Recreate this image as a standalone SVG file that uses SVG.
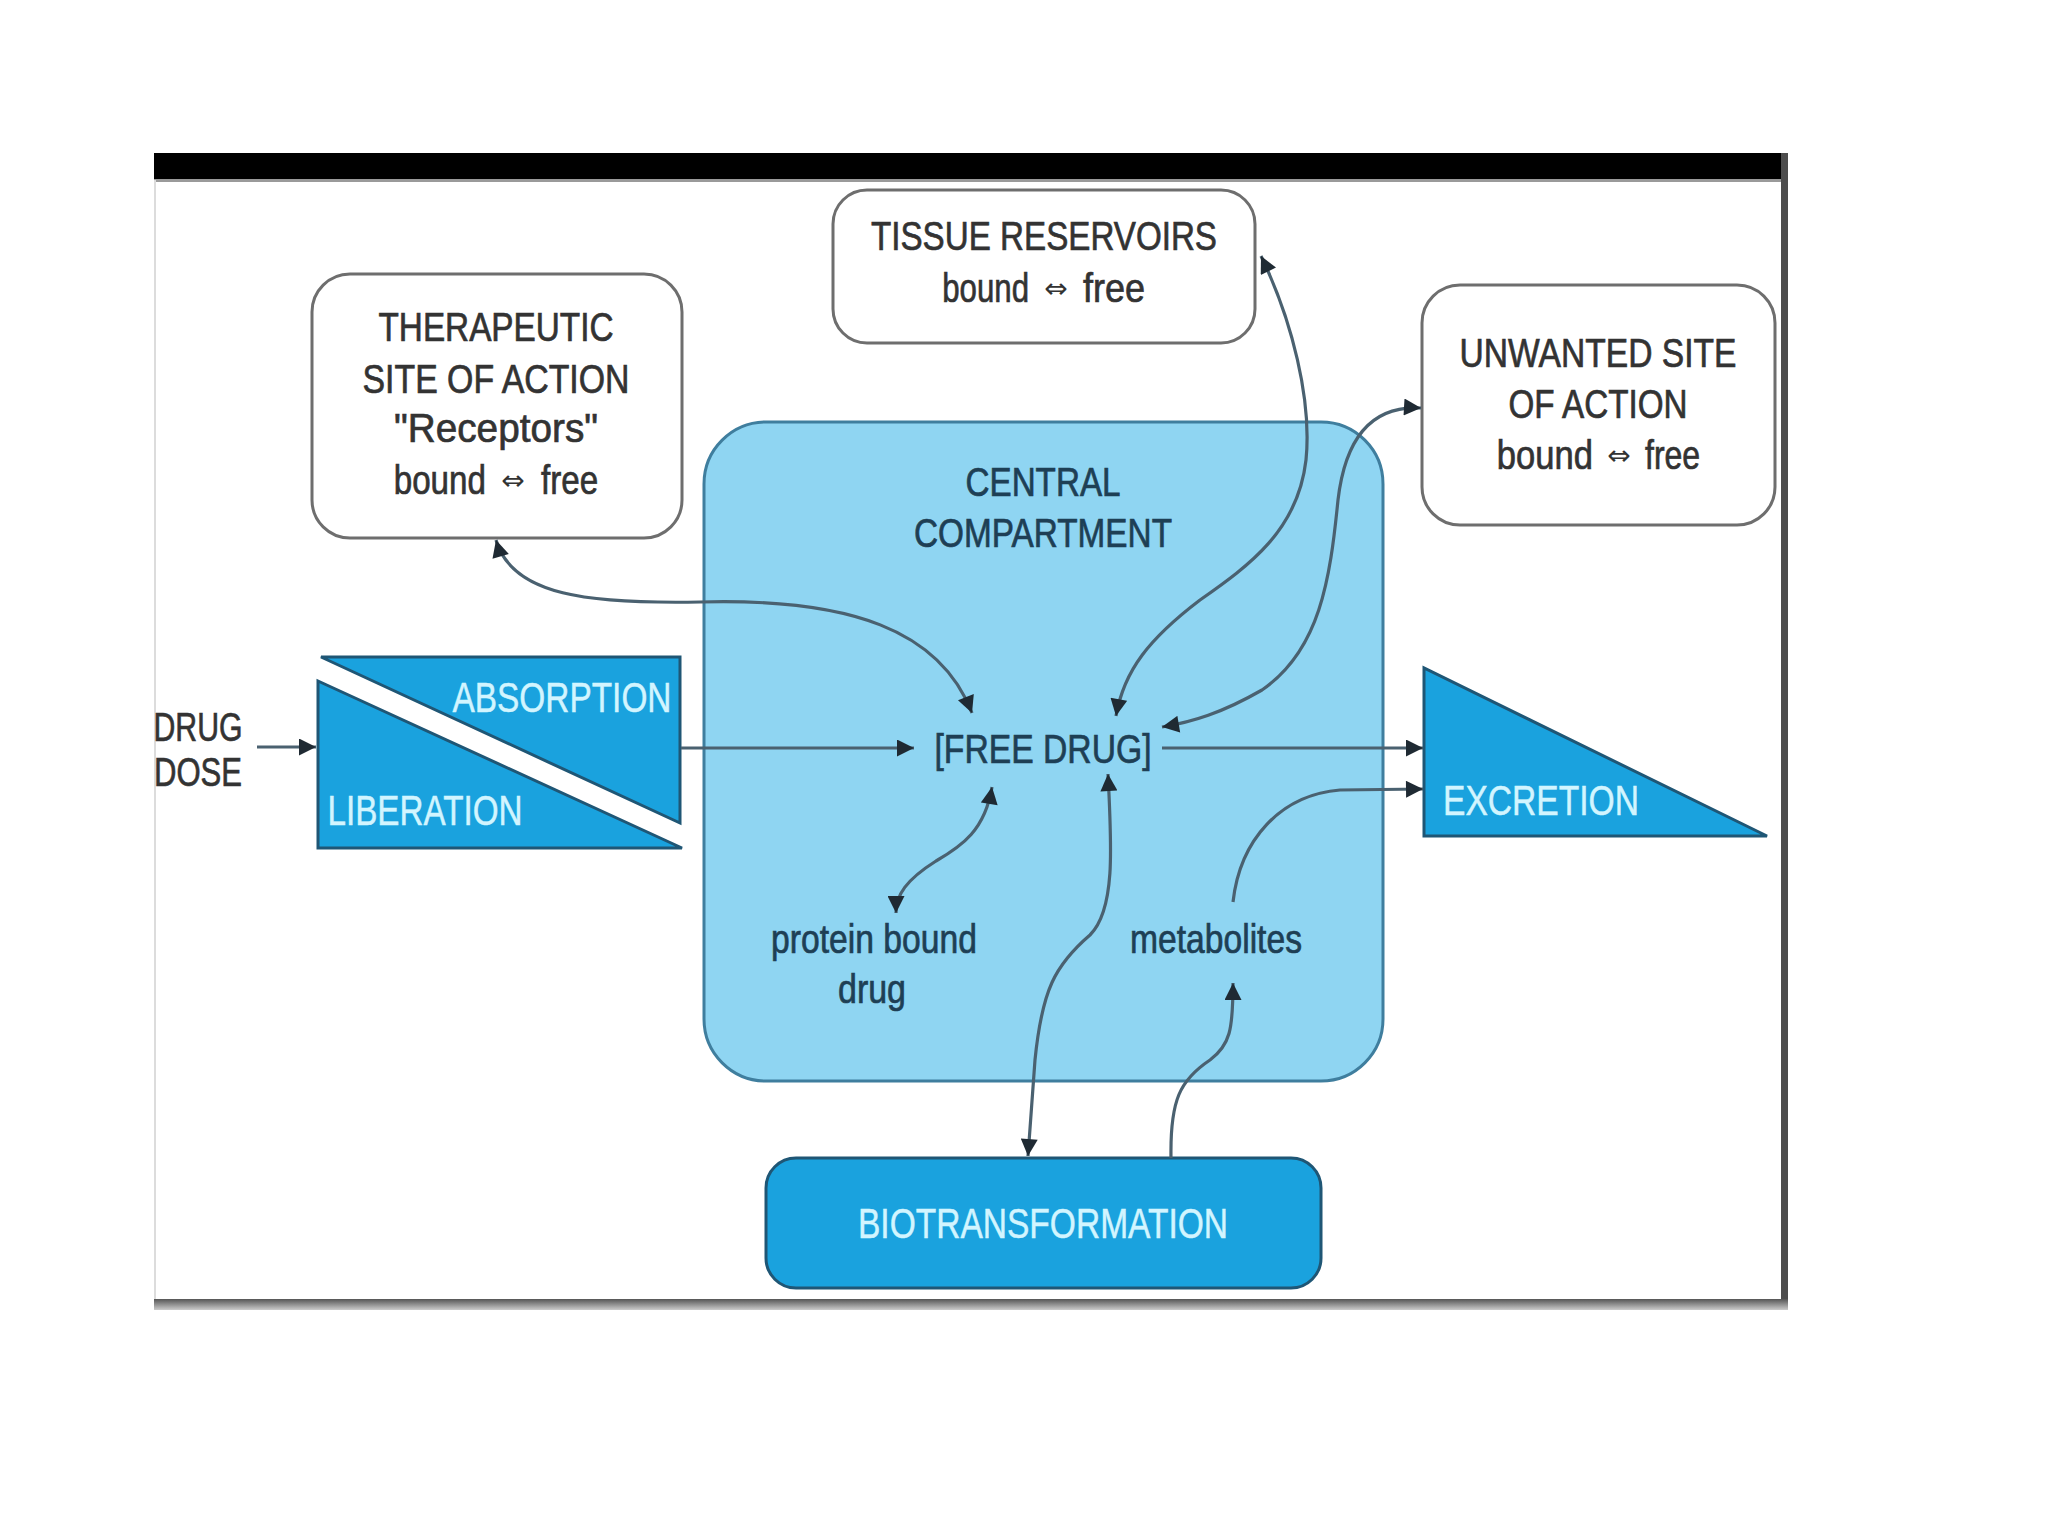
<svg xmlns="http://www.w3.org/2000/svg" width="2048" height="1536" viewBox="0 0 2048 1536">
<defs>
<marker id="ah" viewBox="0 0 10 10" refX="10" refY="5" markerWidth="20" markerHeight="17" markerUnits="userSpaceOnUse" orient="auto-start-reverse">
<path d="M0,0 L10,5 L0,10 z" fill="#1f2a33"/>
</marker>
<linearGradient id="bottomShade" x1="0" y1="0" x2="0" y2="1">
<stop offset="0" stop-color="#555"/>
<stop offset="1" stop-color="#ccc"/>
</linearGradient>
</defs>
<style>
.t{font-family:"Liberation Sans",Arial,sans-serif;text-anchor:middle}
.s{text-anchor:start}
.e{text-anchor:end}
.box{fill:#fff;stroke:#6e6e6e;stroke-width:3}
.dark{fill:#333;stroke:#333;stroke-width:0.7;font-size:40px}
.inner{fill:#1e3f55;stroke:#1e3f55;stroke-width:0.7;font-size:40px}
.light{fill:#d2f5ff;stroke:#d2f5ff;stroke-width:0.5;font-size:42px}
.sym{font-family:"DejaVu Sans",sans-serif;font-size:28px;text-anchor:middle;fill:#333}
.blue{fill:#1aa2de;stroke:#1f5675;stroke-width:3}
.con{fill:none;stroke:#4a6170;stroke-width:3.2}
</style>
<rect width="2048" height="1536" fill="#fff"/>
<g id="frame">
<rect x="154" y="153" width="1630" height="26" fill="#000"/>
<rect x="154" y="179" width="1630" height="3" fill="#9a9a9a"/>
<line x1="155" y1="180" x2="155" y2="1302" stroke="#dcdcdc" stroke-width="2"/>
<rect x="1781" y="153" width="7" height="1156" fill="#4d4d4d"/>
<rect x="154" y="1299" width="1634" height="11" fill="url(#bottomShade)"/>
</g>
<g id="central-compartment">
<rect x="704" y="422" width="679" height="659" rx="62" fill="#8fd5f2" stroke="#3f7e9e" stroke-width="3"/>
<text class="t inner" x="1043" y="496" textLength="155" lengthAdjust="spacingAndGlyphs">CENTRAL</text>
<text class="t inner" x="1043" y="547" textLength="258" lengthAdjust="spacingAndGlyphs">COMPARTMENT</text>
</g>
<g id="therapeutic-site">
<rect class="box" x="312" y="274" width="370" height="264" rx="38"/>
<text class="t dark" x="496" y="341" font-size="42" textLength="235" lengthAdjust="spacingAndGlyphs">THERAPEUTIC</text>
<text class="t dark" x="496" y="393" font-size="42" textLength="267" lengthAdjust="spacingAndGlyphs">SITE OF ACTION</text>
<text class="t dark" x="496" y="442" textLength="204" lengthAdjust="spacingAndGlyphs">"Receptors"</text>
<text class="t e dark" transform="translate(486,494) scale(0.83,1)">bound</text>
<text class="sym" x="513" y="490">⇔</text>
<text class="t s dark" transform="translate(541,494) scale(0.83,1)">free</text>
</g>
<g id="tissue-reservoirs">
<rect class="box" x="833" y="190" width="422" height="153" rx="34"/>
<text class="t dark" x="1044" y="250" font-size="42" textLength="346" lengthAdjust="spacingAndGlyphs">TISSUE RESERVOIRS</text>
<text class="t e dark" transform="translate(1029,302) scale(0.78,1)">bound</text>
<text class="sym" x="1056" y="298" font-size="25">⇔</text>
<text class="t s dark" transform="translate(1083,302) scale(0.9,1)">free</text>
</g>
<g id="unwanted-site">
<rect class="box" x="1422" y="285" width="353" height="240" rx="38"/>
<text class="t dark" x="1598" y="367" font-size="42" textLength="277" lengthAdjust="spacingAndGlyphs">UNWANTED SITE</text>
<text class="t dark" x="1598" y="418" font-size="42" textLength="179" lengthAdjust="spacingAndGlyphs">OF ACTION</text>
<text class="t e dark" transform="translate(1593,469) scale(0.865,1)">bound</text>
<text class="sym" x="1619" y="465">⇔</text>
<text class="t s dark" transform="translate(1645,469) scale(0.8,1)">free</text>
</g>
<g id="drug-dose">
<text class="t dark" x="198" y="741" textLength="89" lengthAdjust="spacingAndGlyphs">DRUG</text>
<text class="t dark" x="198" y="786" textLength="88" lengthAdjust="spacingAndGlyphs">DOSE</text>
</g>
<g id="absorption-liberation">
<polygon class="blue" points="321,657 680,657 680,823"/>
<polygon class="blue" points="318,681 682,848 318,848"/>
<text class="t light" x="562" y="712" textLength="219" lengthAdjust="spacingAndGlyphs">ABSORPTION</text>
<text class="t light" x="425" y="825" textLength="195" lengthAdjust="spacingAndGlyphs">LIBERATION</text>
</g>
<g id="free-drug">
<text class="t inner" x="1043" y="763" textLength="217" lengthAdjust="spacingAndGlyphs">[FREE DRUG]</text>
</g>
<g id="protein-bound">
<text class="t inner" x="874" y="953" textLength="206" lengthAdjust="spacingAndGlyphs">protein bound</text>
<text class="t inner" x="872" y="1003" textLength="68" lengthAdjust="spacingAndGlyphs">drug</text>
</g>
<g id="metabolites">
<text class="t inner" x="1216" y="953" textLength="172" lengthAdjust="spacingAndGlyphs">metabolites</text>
</g>
<g id="excretion">
<polygon class="blue" points="1424,668 1424,836 1767,836"/>
<text class="t light" x="1541" y="815" textLength="196" lengthAdjust="spacingAndGlyphs">EXCRETION</text>
</g>
<g id="biotransformation">
<rect x="766" y="1158" width="555" height="130" rx="30" fill="#1aa2de" stroke="#1f5675" stroke-width="3"/>
<text class="t light" x="1043" y="1238" textLength="370" lengthAdjust="spacingAndGlyphs">BIOTRANSFORMATION</text>
</g>
<g id="connectors">
<line class="con" x1="257" y1="747" x2="316" y2="747" marker-end="url(#ah)"/>
<line class="con" x1="681" y1="748" x2="914" y2="748" marker-end="url(#ah)"/>
<line class="con" x1="1162" y1="748" x2="1423" y2="748" marker-end="url(#ah)"/>
<path class="con" d="M496,540 C512,596 590,604 700,602 C850,598 940,630 972,713" marker-start="url(#ah)" marker-end="url(#ah)"/>
<path class="con" d="M1261,256 C1292,320 1312,400 1306,460 C1298,530 1250,565 1200,600 C1150,638 1124,670 1116,716" marker-start="url(#ah)" marker-end="url(#ah)"/>
<path class="con" d="M1421,408 C1370,405 1345,440 1338,500 C1330,580 1320,650 1262,690 C1222,713 1192,722 1162,727" marker-start="url(#ah)" marker-end="url(#ah)"/>
<path class="con" d="M992,787 C985,830 962,846 936,861 C906,880 896,895 896,913" marker-start="url(#ah)" marker-end="url(#ah)"/>
<path class="con" d="M1108,774 C1112,850 1115,910 1090,935 C1055,965 1042,990 1035,1060 L1028,1156" marker-start="url(#ah)" marker-end="url(#ah)"/>
<path class="con" d="M1171,1158 C1170,1100 1180,1080 1210,1060 C1230,1045 1233,1030 1233,983" marker-end="url(#ah)"/>
<path class="con" d="M1233,902 C1240,840 1280,795 1340,790 L1423,789" marker-end="url(#ah)"/>
</g>
</svg>
